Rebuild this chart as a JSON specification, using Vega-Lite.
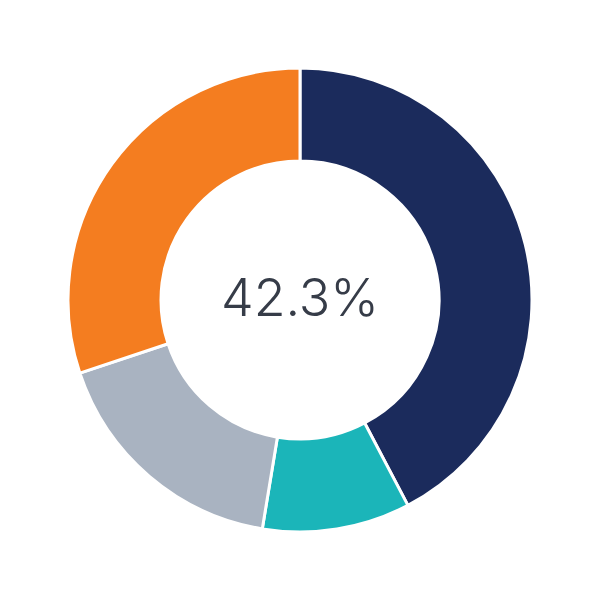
{
  "$schema": "https://vega.github.io/schema/vega-lite/v6.json",
  "width": 600,
  "height": 600,
  "autosize": {"type": "fit", "contains": "padding"},
  "padding": 0,
  "background": "white",
  "view": {"stroke": null},
  "datasets": {
    "segments": [
      {"category": "A", "order": 1, "share": 42.3},
      {"category": "B", "order": 2, "share": 10.3},
      {"category": "C", "order": 3, "share": 17.3},
      {"category": "D", "order": 4, "share": 30.1}
    ],
    "label": [{"text": "42.3%"}]
  },
  "layer": [
    {
      "data": {"name": "segments"},
      "mark": {"type": "arc", "outerRadius": 232, "innerRadius": 139, "stroke": "white", "strokeWidth": 3},
      "encoding": {
        "theta": {"field": "share", "type": "quantitative", "stack": true},
        "order": {"field": "order", "type": "quantitative"},
        "color": {
          "field": "category",
          "type": "nominal",
          "legend": null,
          "scale": {
            "domain": ["A", "B", "C", "D"],
            "range": ["#1b2b5c", "#1bb5b9", "#a9b3c1", "#f47d20"]
          }
        }
      }
    },
    {
      "data": {"name": "label"},
      "mark": {"type": "text", "font": "Inter", "fontSize": 52, "fontWeight": 350, "color": "#363c48", "baseline": "middle", "align": "center"},
      "encoding": {"text": {"field": "text", "type": "nominal"}}
    }
  ]
}
